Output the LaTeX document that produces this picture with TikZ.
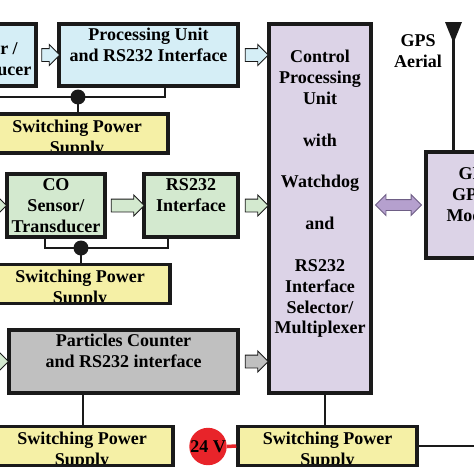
\documentclass[tikz,border=0pt]{standalone}
\usepackage{fontspec}
\setmainfont{Liberation Serif}
\usepackage{xcolor}
\definecolor{DarkGrey}{HTML}{1A1A1A}
\definecolor{LightBlue}{HTML}{D5EEF6}
\definecolor{LightGreen}{HTML}{D3E9CF}
\definecolor{PaleYellow}{HTML}{F5F0A6}
\definecolor{MidGrey}{HTML}{C0C0C0}
\definecolor{Lavender}{HTML}{DCD3E7}
\definecolor{Violet}{HTML}{B5A0CE}
\definecolor{DarkViolet}{HTML}{6E5E85}
\definecolor{BrightRed}{HTML}{E8242A}
\usepackage{tikz}
\usetikzlibrary{calc,shapes.arrows,positioning}
\newcommand\BoxFont{\fontsize{18}{21}\selectfont\bfseries}
\newcommand\Border{3.5pt}
\newcommand\Wire{1.8pt}
\tikzstyle{block}=[rectangle,draw=DarkGrey,line width=\Border,text centered,
                     align=center,inner sep=0pt,font=\BoxFont]
\tikzstyle{supply}=[block,fill=PaleYellow,minimum height=39,
                     path picture={\node[align=center,font=\BoxFont] at ([yshift=-5pt]path picture bounding box.center) {Switching Power\\Supply};}]
\tikzstyle{fat}=[single arrow,draw=DarkGrey,line width=0.9pt,inner xsep=0pt,inner ysep=6pt,
                     single arrow head extend=4pt,single arrow head indent=0pt]
\tikzstyle{wire}=[draw=DarkGrey,line width=\Wire]
\begin{document}
\begin{tikzpicture}[x=1pt,y=-1pt]
      \useasboundingbox (0,0) rectangle (474,474);
      \clip (0,0) rectangle (474,474);
      % first row
      \node[block] (sensA) at (-13,55) [fill=LightBlue,minimum width=98,minimum height=62] {\mbox{}\\Sensor /\\Transducer};
      \node[block] (procA) at (148.5,55) [fill=LightBlue,minimum width=179,minimum height=62] {Processing Unit\\and RS232 Interface\\\mbox{}};
      \node[supply] (supA) at (77,133.5) [minimum width=182] {};
      % second row
      \node[block] (coB) at (56,205.5) [fill=LightGreen,minimum width=98,minimum height=63] {CO\\Sensor/\\Transducer};
      \node[block] (rsB) at (191,205.5) [fill=LightGreen,minimum width=94,minimum height=63] {RS232\\Interface\\\mbox{}};
      \node[supply] (supB) at (80,284) [minimum width=180] {};
      % third row
      \node[block] (partC) at (123.5,361.5) [fill=MidGrey,minimum width=229,minimum height=63] {Particles Counter\\and RS232 interface\\\mbox{}};
      \node[supply] (supC) at (82,446) [minimum width=182] {};
      % control unit and GPS
      \node[block] (ctrl) at (320,208.5) [fill=Lavender,minimum width=102,minimum height=369] {};
      \node[font=\fontsize{18}{20.85}\selectfont\bfseries,align=center] (ctrlText) at (320,194)
           {Control\\Processing\\Unit\\\mbox{}\\with\\\mbox{}\\Watchdog\\\mbox{}\\and\\\mbox{}\\RS232\\Interface\\Selector/\\Multiplexer};
      \node[supply] (supD) at (327.5,446) [minimum width=179] {};
      \node[block] (gps) at (476,205) [fill=Lavender,minimum width=100,minimum height=106] {GPS\\GPRS\\Module\\\mbox{}};
      \node[circle,fill=BrightRed,minimum size=31,inner sep=0pt,font=\BoxFont] (v24) at (208,446.5) {24 V};
      % block arrows
      \node[fat,fill=LightBlue,minimum height=18] (aA1) at ($(sensA.east)!0.5!(procA.west)$) {};
      \node[fat,fill=LightBlue,minimum height=23] (aA2) at ($(procA.east)!0.5!(ctrl.west |- procA.east)$) {};
      \node[fat,fill=LightGreen,minimum height=34] (aB0) at ($(coB.west)+(-19,0)$) {};
      \node[fat,fill=LightGreen,minimum height=33] (aB1) at ($(coB.east)!0.5!(rsB.west)$) {};
      \node[fat,fill=LightGreen,minimum height=23] (aB2) at ($(rsB.east)!0.5!(ctrl.west |- rsB.east)$) {};
      \node[fat,fill=LightGreen,minimum height=34] (aC0) at ($(partC.west)+(-19,0)$) {};
      \node[fat,fill=MidGrey,minimum height=23] (aC1) at ($(partC.east)!0.5!(ctrl.west |- partC.east)$) {};
      \node[double arrow,draw=DarkViolet,fill=Violet,line width=0.9pt,inner xsep=0pt,inner ysep=5pt,minimum height=46,
            double arrow head extend=5pt,double arrow head indent=0pt] (aGps) at ($(ctrl.east |- gps.center)!0.5!(gps.west)$) {};
      % power lines
      \coordinate (jA) at (78,97);
      \draw[wire] (sensA.south) |- (jA) -| ([xshift=16.5pt]procA.south);
      \draw[wire] (jA) -- (jA |- supA.north);
      \fill[DarkGrey] (jA) circle (7.5);
      \coordinate (jB) at (81,248);
      \draw[wire] ([xshift=-11pt]coB.south) |- (jB) -| ([xshift=-23pt]rsB.south);
      \draw[wire] (jB) -- (jB |- supB.north);
      \fill[DarkGrey] (jB) circle (7.5);
      \draw[wire] ([xshift=-40.5pt]partC.south) -- ([xshift=-40.5pt]partC.south |- supC.north);
      \draw[wire] ([xshift=5pt]ctrl.south) -- ([xshift=5pt]ctrl.south |- supD.north);
      \draw[line width=3.5pt,BrightRed] (v24.east) -- (supD.west);
      \coordinate (outD) at (474,446);
      \draw[wire] (supD.east) -- (outD);
      % aerial
      \coordinate (aerTop) at (453.5,22);
      \draw[line width=2.8pt,DarkGrey] (aerTop |- gps.north) -- (aerTop);
      \fill[DarkGrey] (445,22) -- (462,22) -- (453.5,43) -- cycle;
      \node[font=\BoxFont,align=center] (aerText) at (418,51) {GPS\\Aerial};
   \end{tikzpicture}
\end{document}
